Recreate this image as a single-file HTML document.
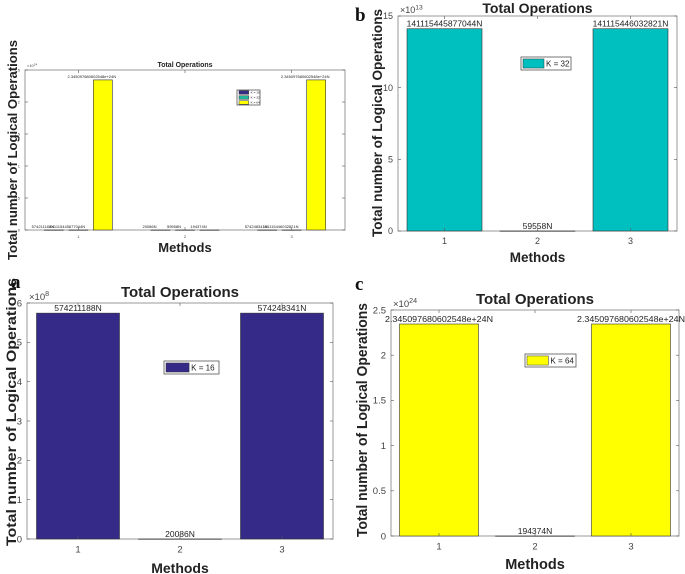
<!DOCTYPE html>
<html><head><meta charset="utf-8">
<style>
html,body{margin:0;padding:0;background:#fff;}
svg{display:block;font-family:"Liberation Sans",sans-serif;}
</style></head>
<body>
<svg id="fig" width="685" height="574" viewBox="0 0 685 574" xmlns="http://www.w3.org/2000/svg"></svg>
<script>
// ---- data ----
const categories = ["1","2","3"];
const k16Values = [574211188, 20086, 574248341];
const k16Labels = ["574211188N","20086N","574248341N"];
const k32Values = [141115445877044, 59558, 141115446032821];
const k32Labels = ["141115445877044N","59558N","141115446032821N"];
const k64Values = [2.3451e24, 194374, 2.3451e24];
const k64Labels = ["2.345097680602548e+24N","194374N","2.345097680602548e+24N"];
const ticksA = [0,1,2,3,4,5,6];
const ticksB = [0,5,10,15];
const ticksC = [0,0.5,1,1.5,2,2.5];
const seriesNames = ["K = 16","K = 32","K = 64"];
const colors = ["#352a87","#00bfbf","#ffff00"];
const colorsCombined = ["#352a87","#1fb59b","#ffff00"];

const NS = "http://www.w3.org/2000/svg";
const svg = document.getElementById('fig');
function mk(tag, attrs, parent, text){
  const e = document.createElementNS(NS, tag);
  for (const k in attrs) e.setAttribute(k, attrs[k]);
  if (text !== undefined) e.textContent = text;
  (parent||svg).appendChild(e);
  return e;
}

function panel(cfg){
  const g = mk('g', {});
  
  
  const L=cfg.box[0], T=cfg.box[1], R=cfg.box[2], B=cfg.box[3];
  const scale = Math.pow(10, Number(cfg.exp));
  const xs = v => L + (v-0.5)/3*(R-L);
  const ys = v => B - Math.min(v/(cfg.ymax*scale), 1.05)*(B-T);
  const fr = mk('rect', {x:L, y:T, width:R-L, height:B-T, fill:'#fff', stroke:'#7f7f7f', 'stroke-width':0.8}, g);
  
  
  cfg.series.forEach((s) => {
    s.values.forEach((v, i) => {
      const c = xs(i+1) + s.offset;
      const x0 = c - cfg.barW/2;
      const y0 = ys(v);
      const r = mk('rect', {x:x0, y:y0, width:cfg.barW, height:Math.max(0.3,B-y0), fill:s.color, stroke:'#333', 'stroke-width':0.6}, g);
      
      
      const la = {x:c + (cfg.labelShift||0), y:y0-2, 'font-size':cfg.labFs, 'text-anchor':'middle', fill:'#222'};
      if (cfg.longLabLen && s.labels[i].length > 18) { la.textLength = cfg.longLabLen; la.lengthAdjust = 'spacingAndGlyphs'; }
      const t = mk('text', la, g, s.labels[i]);
      
      
    });
  });
  cfg.yticks.forEach(tv => {
    const y = ys(tv*scale);
    mk('line', {x1:L, x2:L+3, y1:y, y2:y, stroke:'#555', 'stroke-width':0.6}, g);
    mk('line', {x1:R, x2:R-3, y1:y, y2:y, stroke:'#555', 'stroke-width':0.6}, g);
    const t = mk('text', {x:L-5, y:y+cfg.tickFs*0.35, 'font-size':cfg.tickFs, 'text-anchor':'end', fill:'#444'}, g, String(tv));
    
    
  });
  categories.forEach((c, i) => {
    const x = xs(i+1);
    mk('line', {x1:x, x2:x, y1:B, y2:B-3, stroke:'#555', 'stroke-width':0.6}, g);
    mk('line', {x1:x, x2:x, y1:T, y2:T+3, stroke:'#555', 'stroke-width':0.6}, g);
    const t = mk('text', {x:x, y:B+cfg.tickFs+4, 'font-size':cfg.tickFs, 'text-anchor':'middle', fill:'#444'}, g, c);
    
    
  });
  const ex = mk('text', {x:L+2, y:T-3, 'font-size':cfg.tickFs, fill:'#444'}, g);
  
  
  ex.textContent = '×10';
  mk('tspan', {'font-size':cfg.tickFs*0.75, dy:-cfg.tickFs*0.4}, ex, cfg.exp);
  const ti = mk('text', {x:(L+R)/2, y:cfg.titleY, 'font-size':cfg.titleFs, 'font-weight':'bold', 'text-anchor':'middle', fill:'#222'}, g, 'Total Operations');
  
  
  const xl = mk('text', {x:(L+R)/2, y:cfg.xlabY, 'font-size':cfg.axFs, 'font-weight':'bold', 'text-anchor':'middle', fill:'#222'}, g, 'Methods');
  
  
  const yl = mk('text', {x:0, y:0, 'font-size':cfg.axFs, 'font-weight':'bold', 'text-anchor':'middle', fill:'#222', textLength:cfg.ylabLen, lengthAdjust:'spacingAndGlyphs', transform:'translate('+cfg.ylabX+','+cfg.ylabC+') rotate(-90)'}, g, 'Total number of Logical Operations');
  
  
  const lg = mk('g', {}, g);
  
  
  const [lx, ly, lw, lh] = cfg.legend;
  mk('rect', {x:lx, y:ly, width:lw, height:lh, fill:'#fff', stroke:'#555', 'stroke-width':0.8}, lg);
  const n = cfg.series.length, rh = lh/n;
  cfg.series.forEach((s, si) => {
    const e = mk('g', {}, lg);
    
    
    const sw = lw*0.42;
    mk('rect', {x:lx+2, y:ly+si*rh+rh*0.15, width:sw, height:rh*0.7, fill:s.color, stroke:'#333', 'stroke-width':0.5}, e);
    mk('text', {x:lx+4+sw, y:ly+si*rh+rh*0.72, 'font-size':rh*0.62, fill:'#222'}, e, s.name);
  });
  if (cfg.letter){
    const pl = mk('text', {x:cfg.letter[1], y:cfg.letter[2], 'font-size':19, 'font-weight':'bold', 'font-family':'Liberation Serif, serif', fill:'#111'}, g, cfg.letter[0]);
    
    
  }
}

panel({name:'combined-chart', box:[25,70,345,230], ymax:2.5, yticks:ticksC, exp:'24', barW:19, labFs:4, labelShift:-11,
  series:[
    {key:'k16', name:seriesNames[0], values:k16Values, labels:k16Labels, color:colorsCombined[0], offset:-24.5},
    {key:'k32', name:seriesNames[1], values:k32Values, labels:k32Labels, color:colorsCombined[1], offset:0},
    {key:'k64', name:seriesNames[2], values:k64Values, labels:k64Labels, color:colorsCombined[2], offset:24.5}],
  tickFs:4, titleY:67, titleFs:7, axFs:13, xlabY:252, ylabX:17, ylabC:150, ylabLen:220, legend:[237,90,23,15]});

panel({name:'chart-k32', box:[398,16,677,231], ymax:15, yticks:ticksB, exp:'13', barW:75, labFs:8.5,
  series:[{key:'k32', name:seriesNames[1], values:k32Values, labels:k32Labels, color:colors[1], offset:0}],
  tickFs:9, titleY:13, titleFs:14, axFs:13.5, xlabY:262, ylabX:382, ylabC:123, ylabLen:228, legend:[521,57,50,13], letter:['b',355,21]});

panel({name:'chart-k16', box:[27,303,333,539], ymax:6, yticks:ticksA, exp:'8', barW:83, labFs:8.5,
  series:[{key:'k16', name:seriesNames[0], values:k16Values, labels:k16Labels, color:colors[0], offset:0}],
  tickFs:9.5, titleY:297, titleFs:15, axFs:14, xlabY:573, ylabX:16, ylabC:412, ylabLen:268, legend:[164,361,55,13], letter:['a',11,288]});

panel({name:'chart-k64', box:[391,310,679,536], ymax:2.5, yticks:ticksC, exp:'24', barW:79, labFs:8.5, longLabLen:108,
  series:[{key:'k64', name:seriesNames[2], values:k64Values, labels:k64Labels, color:colors[2], offset:0}],
  tickFs:9.5, titleY:304, titleFs:15, axFs:14.5, xlabY:569, ylabX:367, ylabC:420, ylabLen:234, legend:[525,354,51,13], letter:['c',355,290]});
</script>
</body></html>
